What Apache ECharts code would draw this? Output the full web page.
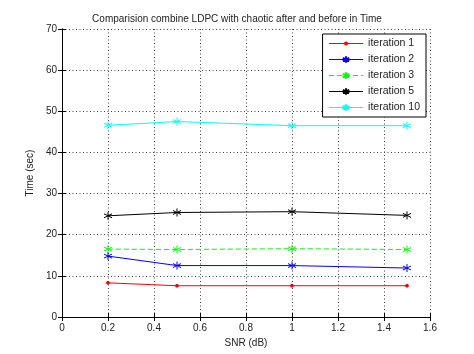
<!DOCTYPE html>
<html><head><meta charset="utf-8">
<script src="https://cdn.jsdelivr.net/npm/echarts@6/dist/echarts.min.js"></script>
<style>html,body{margin:0;padding:0;background:#fff}#c{width:474px;height:354px}</style>
</head><body><div id="c"></div>
<script>
const snr = [0.2, 0.5, 1.0, 1.5];
const iter1 = [8.3, 7.6, 7.6, 7.6];
const iter2 = [14.8, 12.5, 12.5, 11.9];
const iter3 = [16.5, 16.4, 16.6, 16.4];
const iter5 = [24.6, 25.4, 25.6, 24.7];
const iter10 = [46.6, 47.5, 46.5, 46.5];
const seriesNames = ['iteration 1','iteration 2','iteration 3','iteration 5','iteration 10'];
const seriesColors = ['#ff0000','#0000ff','#00ff00','#000000','#00ffff'];

const star = 'path://M0,-5L0,5M-4.3,-2.5L4.3,2.5M-4.3,2.5L4.3,-2.5';
const dot = 'path://M-5,-5M5,5M1.6,0A1.6,1.6,0,1,1,-1.6,0A1.6,1.6,0,1,1,1.6,0Z';
const font = 'Liberation Sans';
function mk(name, data, color, sym, dashed, size){
  return {
    name, type:'line', data: snr.map((x,i)=>[x,data[i]]),
    symbol: sym, symbolSize: size, showSymbol:true,
    lineStyle:{color, width:1, type: dashed?[5,3]:'solid'},
    itemStyle:{color, borderColor:color, borderWidth:1},
    emphasis:{disabled:true}, animation:false
  };
}
const series = [
  mk(seriesNames[0], iter1, seriesColors[0], dot, false, 9),
  mk(seriesNames[1], iter2, seriesColors[1], star, false, 8),
  mk(seriesNames[2], iter3, seriesColors[2], star, true, 8),
  mk(seriesNames[3], iter5, seriesColors[3], star, false, 8),
  mk(seriesNames[4], iter10, seriesColors[4], star, false, 8)
];
const axLine = {show:true, lineStyle:{color:'#000', width:1}};
const chart = echarts.init(document.getElementById('c'), null, {renderer:'canvas'});
chart.setOption({
  animation:false,
  backgroundColor:'#fff',
  title:{text:'Comparision combine LDPC with chaotic after and before in Time', left:'center', top:9,
    textStyle:{fontFamily:font, fontSize:10, fontWeight:'normal', color:'#222'}},
  grid:{left:62, right:44, top:29, bottom:37},
  legend:{
    data: seriesNames, orient:'vertical', right:48, top:34,
    backgroundColor:'#fff', borderColor:'#000', borderWidth:1, padding:[4,6,4,6],
    itemWidth:34, itemHeight:8, itemGap:5,
    lineStyle:{width:1},
    textStyle:{fontFamily:font, fontSize:10.5, color:'#222'}
  },
  xAxis:[{
    type:'value', min:0, max:1.6, interval:0.2, position:'bottom',
    name:'SNR (dB)', nameLocation:'middle', nameGap:18,
    nameTextStyle:{fontFamily:font, fontSize:10, color:'#222'},
    axisLine:axLine, axisTick:{show:true, inside:true, length:4, lineStyle:{color:'#000'}},
    axisLabel:{fontFamily:font, fontSize:10, color:'#222', margin:6, formatter:v=>String(Math.round(v*10)/10)},
    splitLine:{show:true, lineStyle:{type:[1,2.5], color:'#444', width:1}}
  },{
    type:'value', min:0, max:1.6, interval:0.2, position:'top',
    axisLine:axLine, axisTick:{show:true, inside:true, length:4, lineStyle:{color:'#000'}},
    axisLabel:{show:false}, splitLine:{show:false}
  }],
  yAxis:[{
    type:'value', min:0, max:70, interval:10, position:'left',
    name:'Time (sec)', nameLocation:'middle', nameGap:22,
    nameTextStyle:{fontFamily:font, fontSize:10, color:'#222'},
    axisLine:axLine, axisTick:{show:true, inside:true, length:4, lineStyle:{color:'#000'}},
    axisLabel:{fontFamily:font, fontSize:10, color:'#222', margin:5},
    splitLine:{show:true, lineStyle:{type:[1,2.5], color:'#444', width:1}}
  },{
    type:'value', min:0, max:70, interval:10, position:'right',
    axisLine:axLine, axisTick:{show:true, inside:true, length:4, lineStyle:{color:'#000'}},
    axisLabel:{show:false}, splitLine:{show:false}
  }],
  series
});
</script></body></html>
